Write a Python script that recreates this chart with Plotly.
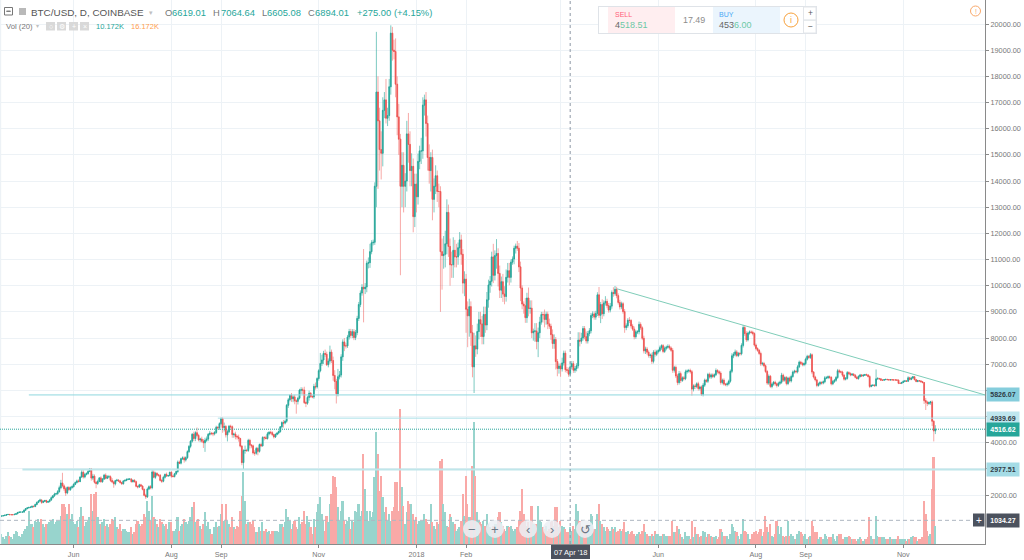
import pandas as pd
import plotly.graph_objects as go

# daily closes, one line per month (USD)
close = [
    1180, 1205, 1215, 1230, 1255, 1260, 1250, 1250, 1250, 1265, 1285, 1335, 1350, 1350, 1350,  # 2017-04 from the 16th
    1420, 1480, 1510, 1530, 1535, 1570, 1560, 1640, 1720, 1770, 1810, 1720, 1760, 1790, 1730, 1750, 1810, 1900, 1970, 2040, 2050, 2130, 2280, 2460, 2350, 2240, 2080, 2290, 2210, 2290, 2320,
    2410, 2480, 2540, 2515, 2690, 2870, 2690, 2790, 2825, 2905, 2990, 2650, 2720, 2490, 2440, 2520, 2655, 2510, 2610, 2760, 2640, 2700, 2700, 2560, 2500, 2430, 2550, 2570, 2540, 2480,
    2430, 2540, 2560, 2600, 2610, 2610, 2510, 2560, 2510, 2335, 2310, 2390, 2345, 2220, 1990, 1930, 2230, 2320, 2280, 2880, 2680, 2830, 2760, 2760, 2560, 2530, 2680, 2790, 2730, 2745, 2870,
    2720, 2710, 2810, 2900, 3260, 3220, 3390, 3420, 3340, 3430, 3660, 3860, 4060, 4320, 4160, 4380, 4280, 4110, 4140, 4060, 4000, 4090, 4140, 4320, 4360, 4350, 4340, 4390, 4590, 4570, 4730,
    4920, 4580, 4620, 4300, 4420, 4630, 4610, 4310, 4330, 4240, 4220, 4160, 3870, 3240, 3700, 3710, 3700, 4090, 3910, 3880, 3610, 3600, 3780, 3670, 3930, 3880, 4200, 4190, 4160, 4340,
    4400, 4380, 4310, 4220, 4320, 4370, 4430, 4610, 4770, 4750, 4820, 5430, 5640, 5810, 5680, 5750, 5600, 5580, 5700, 6010, 6020, 6010, 5530, 5510, 5730, 5890, 5770, 5750, 6150, 6130, 6450,
    6750, 7030, 7160, 7410, 7380, 6980, 7120, 7460, 7140, 6570, 6340, 5870, 6520, 6590, 7280, 7850, 7700, 7700, 8040, 8250, 8100, 8240, 8020, 8210, 8750, 9280, 9720, 9940, 9880, 9950,
    10860, 10880, 11300, 11640, 11660, 13800, 17400, 16300, 15200, 15060, 16700, 17100, 16400, 16500, 17600, 19650, 19000, 18950, 17700, 16450, 15600, 13800, 14600, 13800, 14000, 15800, 15400, 14400, 14560, 12640, 13880,
    13400, 14750, 15150, 15150, 16900, 17100, 16200, 14900, 14400, 14900, 13300, 13800, 14200, 13600, 13600, 11300, 11150, 11200, 11600, 12800, 11500, 10800, 10800, 11350, 11100, 11100, 11450, 11750, 11200, 10100, 10250,
    9100, 8850, 9200, 8200, 6900, 7700, 7580, 8250, 8700, 8540, 8060, 8900, 8500, 9460, 10030, 10170, 11100, 10400, 11150, 11230, 10470, 9830, 10150, 9680, 9590, 10320, 10570, 10320,
    10900, 11020, 11430, 11510, 11430, 10720, 9910, 9300, 9230, 8780, 9530, 9130, 9140, 8200, 8260, 8270, 7870, 8200, 8610, 8900, 8890, 8710, 8910, 8540, 8450, 8130, 7790, 7940, 7100, 6840, 6930,
    6820, 7050, 7420, 6790, 6770, 6620, 6900, 7020, 6770, 6830, 6940, 7920, 7880, 8000, 8360, 8050, 7890, 8170, 8280, 8860, 8920, 8800, 8940, 9650, 8870, 9280, 8930, 9340, 9400, 9240,
    9070, 9220, 9740, 9700, 9860, 9620, 9360, 9190, 9310, 9010, 8400, 8470, 8680, 8670, 8460, 8340, 8050, 8240, 8240, 8520, 8390, 7990, 7510, 7580, 7460, 7330, 7350, 7110, 7460, 7380, 7480,
    7520, 7630, 7710, 7490, 7610, 7650, 7680, 7620, 7530, 6770, 6880, 6550, 6300, 6640, 6380, 6480, 6450, 6710, 6740, 6760, 6710, 6050, 6170, 6150, 6250, 6070, 6130, 5850, 6200, 6390,
    6350, 6610, 6510, 6590, 6530, 6600, 6760, 6710, 6660, 6300, 6390, 6240, 6220, 6250, 6350, 6730, 7320, 7380, 7470, 7330, 7410, 7400, 7720, 8400, 8170, 7930, 8190, 8230, 8220, 8170, 7730,
    7600, 7530, 7410, 7010, 7030, 6940, 6720, 6280, 6540, 6150, 6240, 6310, 6250, 6190, 6270, 6310, 6580, 6390, 6490, 6260, 6470, 6360, 6530, 6700, 6730, 6710, 6900, 7080, 7030, 6980, 7020,
    7190, 7300, 7260, 7360, 6700, 6510, 6400, 6190, 6250, 6300, 6280, 6330, 6480, 6480, 6520, 6500, 6250, 6340, 6390, 6490, 6750, 6710, 6700, 6580, 6430, 6460, 6680, 6640, 6590, 6620,
    6580, 6500, 6450, 6530, 6590, 6550, 6580, 6600, 6590, 6530, 6150, 6190, 6200, 6180, 6440, 6450, 6440, 6390, 6390, 6410, 6420, 6410, 6400, 6410, 6400, 6400, 6400, 6390, 6270, 6270, 6300,
    6350, 6360, 6350, 6480, 6420, 6470, 6520, 6410, 6340, 6370, 6360, 6330, 6300, 5610, 5550, 5500, 5530, 5560, 4820, 4450, 4520,  # 2018-11 to the 21st
]

# how far the wick rises above the body
wick_up = [
    15, 10, 10, 15, 10, 10, 10, 10, 10, 15, 15, 20, 15, 10, 15,
    30, 20, 20, 10, 30, 20, 30, 30, 30, 40, 50, 30, 30, 30, 30, 20, 40, 50, 30, 50, 30, 60, 80, 120, 390, 60, 80, 40, 50, 40, 50,
    40, 40, 50, 60, 30, 100, 90, 60, 40, 50, 40, 40, 90, 70, 40, 70, 30, 60, 40, 50, 70, 60, 70, 50, 90, 50, 30, 50, 40, 40,
    30, 30, 40, 30, 20, 30, 40, 40, 50, 40, 30, 40, 40, 30, 30, 60, 60, 50, 60, 80, 70, 60, 40, 50, 40, 60, 60, 30, 70, 20, 20,
    40, 50, 40, 30, 60, 60, 40, 60, 60, 50, 50, 50, 40, 50, 100, 60, 200, 60, 50, 90, 80, 100, 100, 50, 90, 50, 60, 60, 60, 40, 50,
    50, 50, 150, 60, 80, 50, 60, 50, 50, 90, 60, 90, 30, 40, 50, 180, 60, 60, 60, 40, 50, 100, 60, 60, 40, 60, 50, 50, 80, 70,
    40, 60, 60, 30, 30, 30, 40, 20, 50, 100, 60, 50, 70, 30, 90, 60, 80, 60, 60, 50, 100, 90, 130, 50, 60, 100, 50, 40, 100, 150, 50,
    60, 400, 200, 100, 150, 100, 100, 250, 100, 150, 200, 100, 300, 150, 100, 100, 150, 100, 80, 100, 100, 100, 100, 100, 100, 100, 100, 120, 1460, 150,
    100, 200, 300, 100, 100, 150, 2300, 600, 500, 700, 500, 300, 800, 300, 300, 300, 240, 400, 500, 300, 500, 200, 500, 500, 300, 500, 800, 500, 500, 300, 400,
    400, 300, 200, 500, 300, 200, 300, 300, 500, 200, 300, 300, 400, 200, 300, 200, 500, 700, 500, 500, 300, 300, 500, 500, 400, 500, 200, 300, 200, 200, 300,
    200, 300, 300, 200, 300, 500, 400, 300, 300, 300, 300, 300, 300, 300, 200, 200, 200, 500, 200, 550, 200, 300, 200, 300, 300, 300, 300, 300,
    100, 100, 100, 100, 200, 200, 200, 100, 100, 300, 200, 400, 300, 300, 100, 300, 300, 200, 200, 100, 100, 200, 100, 100, 200, 100, 200, 200, 100, 100, 100,
    100, 200, 100, 100, 100, 100, 200, 100, 100, 100, 100, 300, 300, 200, 100, 100, 200, 100, 100, 100, 100, 100, 100, 100, 300, 100, 200, 100, 200, 100,
    100, 120, 80, 200, 130, 100, 90, 100, 80, 70, 100, 90, 80, 120, 60, 80, 100, 70, 60, 110, 80, 60, 100, 90, 80, 70, 60, 90, 80, 100, 70,
    60, 80, 50, 60, 70, 60, 80, 70, 60, 90, 60, 70, 80, 100, 80, 60, 70, 80, 60, 60, 70, 70, 60, 80, 60, 80, 50, 60, 80, 60,
    50, 60, 70, 60, 60, 50, 80, 50, 60, 70, 60, 70, 40, 60, 60, 70, 100, 80, 90, 70, 60, 60, 80, 100, 80, 90, 60, 60, 60, 60, 50,
    60, 50, 50, 70, 60, 60, 50, 60, 70, 50, 60, 50, 60, 50, 60, 60, 90, 60, 50, 60, 50, 60, 70, 60, 60, 50, 70, 60, 50, 60, 50,
    60, 60, 50, 70, 50, 40, 50, 40, 50, 60, 50, 50, 70, 60, 50, 50, 40, 60, 50, 60, 70, 60, 50, 50, 40, 50, 60, 50, 50, 40,
    40, 40, 50, 50, 40, 30, 40, 30, 40, 30, 50, 30, 30, 30, 360, 60, 30, 30, 20, 20, 20, 20, 20, 20, 20, 20, 20, 20, 30, 20, 30,
    30, 40, 20, 60, 40, 50, 30, 20, 30, 30, 20, 30, 30, 20, 100, 50, 50, 40, 60, 40, 150,
]

# how far the wick drops below the body
wick_dn = [
    15, 10, 10, 10, 10, 15, 10, 10, 10, 10, 10, 15, 15, 10, 15,
    30, 20, 20, 20, 30, 20, 30, 20, 30, 30, 40, 60, 30, 30, 40, 30, 30, 30, 30, 40, 30, 40, 40, 60, 60, 80, 110, 50, 60, 50, 50,
    30, 30, 40, 30, 20, 40, 60, 50, 40, 50, 30, 100, 80, 50, 180, 50, 30, 40, 40, 30, 40, 30, 60, 60, 40, 150, 60, 30, 40, 40,
    40, 30, 30, 30, 30, 30, 30, 30, 30, 40, 60, 40, 30, 40, 30, 80, 40, 40, 60, 60, 40, 60, 40, 60, 40, 70, 40, 50, 40, 40, 30,
    60, 40, 40, 40, 50, 40, 50, 50, 100, 60, 50, 50, 70, 60, 100, 100, 60, 60, 90, 60, 200, 350, 60, 80, 50, 60, 90, 60, 50, 70, 80,
    60, 200, 150, 100, 250, 50, 60, 120, 120, 110, 100, 120, 50, 100, 260, 120, 50, 50, 130, 90, 60, 100, 60, 150, 50, 50, 30, 100, 30, 40,
    60, 60, 60, 60, 40, 40, 50, 50, 60, 170, 50, 60, 100, 60, 120, 130, 130, 470, 120, 50, 150, 160, 50, 150, 60, 120, 60, 50, 70, 100, 60,
    80, 60, 100, 150, 100, 50, 100, 100, 100, 200, 300, 370, 100, 100, 100, 150, 200, 100, 80, 100, 100, 100, 100, 100, 100, 100, 100, 100, 1280, 200,
    200, 200, 200, 100, 100, 100, 800, 2600, 800, 1000, 500, 300, 200, 300, 200, 300, 400, 300, 500, 700, 600, 3400, 800, 1000, 800, 400, 700, 600, 600, 600, 400,
    600, 300, 300, 500, 300, 400, 500, 500, 500, 800, 800, 500, 300, 400, 600, 2300, 1300, 500, 500, 400, 400, 800, 500, 500, 400, 400, 300, 300, 400, 400, 500,
    900, 1200, 800, 500, 400, 1000, 300, 200, 300, 500, 300, 300, 300, 200, 300, 300, 200, 300, 200, 500, 500, 300, 300, 300, 300, 200, 200, 300,
    200, 100, 200, 200, 100, 200, 500, 200, 300, 200, 200, 300, 200, 200, 300, 400, 300, 600, 200, 100, 300, 300, 200, 200, 100, 200, 200, 200, 300, 300, 200,
    300, 100, 100, 100, 100, 100, 100, 100, 100, 100, 100, 100, 200, 100, 100, 100, 100, 100, 100, 100, 100, 100, 100, 100, 100, 300, 200, 100, 100, 100,
    100, 90, 100, 120, 80, 100, 80, 100, 90, 80, 200, 100, 80, 100, 90, 70, 100, 80, 90, 100, 80, 70, 100, 120, 90, 80, 100, 100, 80, 90, 70,
    70, 60, 80, 70, 60, 80, 60, 70, 60, 100, 90, 80, 100, 80, 100, 60, 70, 60, 70, 60, 70, 250, 90, 100, 70, 80, 70, 60, 80, 70,
    60, 70, 60, 70, 60, 60, 50, 70, 60, 80, 70, 60, 60, 70, 60, 60, 70, 90, 80, 60, 60, 70, 60, 80, 90, 80, 60, 60, 60, 70, 60,
    70, 60, 60, 80, 60, 60, 60, 70, 70, 60, 70, 60, 70, 80, 60, 60, 60, 70, 60, 70, 60, 60, 60, 50, 60, 60, 60, 50, 60, 60, 60,
    60, 50, 60, 60, 80, 60, 60, 70, 50, 60, 60, 50, 60, 50, 50, 60, 60, 50, 60, 60, 50, 60, 50, 70, 60, 50, 50, 60, 50, 40,
    40, 40, 30, 40, 40, 30, 30, 30, 30, 40, 60, 30, 30, 40, 30, 30, 30, 30, 30, 20, 20, 20, 20, 20, 20, 20, 20, 20, 30, 20, 30,
    20, 30, 20, 30, 40, 30, 30, 30, 30, 30, 20, 30, 30, 130, 300, 100, 60, 80, 180, 400, 120,
]

# volume in thousands of BTC
volume = [
    5, 6, 4, 3, 5, 7, 5, 4, 3, 6, 8, 7, 5, 4, 6,
    8, 9, 11, 20, 12, 12, 10, 14, 13, 15, 13, 15, 12, 10, 12, 12, 13, 14, 15, 12, 13, 14, 14, 17, 24, 24, 22, 18, 24, 15, 18,
    13, 12, 14, 10, 16, 22, 17, 11, 13, 14, 16, 30, 20, 30, 31, 16, 12, 12, 13, 15, 11, 12, 10, 12, 15, 14, 16, 10, 9, 12,
    8, 9, 9, 8, 7, 7, 10, 6, 7, 12, 14, 12, 11, 12, 18, 16, 26, 20, 14, 29, 16, 15, 12, 10, 15, 13, 12, 11, 12, 9, 13,
    13, 8, 8, 9, 16, 8, 11, 12, 15, 13, 12, 14, 16, 22, 25, 13, 14, 15, 11, 9, 12, 19, 11, 13, 9, 6, 6, 10, 13, 10, 11,
    18, 24, 14, 24, 14, 12, 10, 16, 10, 9, 11, 10, 20, 29, 43, 26, 12, 13, 13, 12, 14, 10, 7, 7, 10, 8, 13, 8, 9, 7,
    8, 6, 8, 8, 8, 8, 7, 12, 12, 10, 13, 21, 16, 14, 9, 12, 14, 10, 9, 16, 12, 13, 20, 12, 17, 13, 10, 6, 15, 10, 19,
    24, 28, 18, 14, 8, 17, 13, 24, 30, 41, 40, 34, 22, 14, 20, 26, 14, 12, 14, 16, 9, 14, 13, 20, 19, 24, 17, 20, 54, 33,
    20, 14, 20, 16, 19, 40, 67, 54, 32, 41, 28, 19, 22, 14, 18, 14, 20, 22, 37, 37, 20, 81, 34, 23, 12, 19, 26, 24, 24, 18, 14,
    16, 12, 14, 14, 14, 18, 15, 13, 12, 24, 13, 11, 9, 13, 12, 50, 51, 24, 19, 11, 10, 18, 16, 13, 12, 8, 9, 10, 14, 30, 17,
    41, 24, 16, 16, 47, 73, 41, 19, 14, 13, 12, 14, 11, 18, 12, 10, 9, 11, 12, 12, 16, 19, 13, 11, 9, 8, 11, 10,
    11, 9, 8, 9, 10, 14, 20, 33, 18, 14, 11, 13, 10, 23, 12, 12, 12, 23, 14, 13, 10, 9, 11, 8, 9, 13, 14, 11, 22, 22, 10,
    14, 11, 10, 9, 7, 7, 10.172, 8, 11, 9, 24, 20, 14, 9, 9, 10, 9, 8, 9, 18, 17, 9, 9, 18, 24, 14, 12, 10, 8, 10,
    9, 8, 10, 9, 10, 7, 8, 9, 8, 9, 13, 7, 8, 6, 7, 8, 6, 5, 6, 7, 6, 8, 12, 7, 6, 5, 5, 6, 5, 8, 6,
    6, 5, 5, 6, 6, 5, 5, 5, 5, 14, 7, 7, 11, 9, 6, 4, 3, 7, 5, 5, 3, 14, 4, 10, 6, 6, 4, 5, 8, 7,
    4, 6, 6, 5, 4, 4, 5, 3, 4, 9, 7, 5, 5, 5, 3, 6, 12, 10, 8, 7, 5, 3, 6, 15, 8, 7, 6, 3, 3, 6, 7,
    8, 6, 7, 9, 5, 7, 17, 10, 7, 12, 5, 4, 6, 14, 11, 6, 10, 5, 4, 5, 14, 5, 6, 5, 3, 3, 6, 8, 7, 6, 5,
    6, 3, 4, 5, 14, 11, 7, 7, 3, 4, 4, 3, 6, 5, 3, 4, 4, 6, 3, 2, 5, 6, 6, 3, 3, 4, 4, 5, 4, 3,
    3, 3, 2, 3, 4, 3, 2, 3, 3, 4, 16, 5, 3, 3, 17, 5, 4, 4, 4, 4, 3, 3, 3, 4, 3, 3, 3, 3, 5, 3, 3,
    3, 3, 2, 3, 3, 4, 5, 4, 4, 2, 3, 3, 4, 26, 18, 8, 5, 6, 33, 52, 11,
]

assert len(close) == len(wick_up) == len(wick_dn) == len(volume), (len(close), len(wick_up), len(wick_dn), len(volume))

price_ticks = list(range(2000, 21000, 1000))
date_ticks = ["2017-06-01", "2017-08-01", "2017-09-01", "2017-11-01", "2018-01-01", "2018-02-01",
              "2018-04-01", "2018-06-01", "2018-08-01", "2018-09-01", "2018-11-01"]
date_labels = ["Jun", "Aug", "Sep", "Nov", "2018", "Feb", "Apr", "Jun", "Aug", "Sep", "Nov"]

# drawn levels: price, first date, line width, colour
levels = [
    (5826.07, "2017-05-04", 1, "#8fd8df"),
    (4939.69, "2017-08-30", 1, "#a9e0e8"),
    (2977.51, "2017-04-30", 2, "#bfe6ea"),
]
level_tags = [(5826.07, "#85cddc"), (4939.69, "#bfe6ee"), (2977.51, "#a5dce6")]
last_price = 4516.62
cross_price = 1034.27
cross_date = "2018-04-07"
trend_dates = ["2018-05-06", "2018-12-22"]
trend_prices = [9885, 5826.07]

UP = "#26a69a"
DOWN = "#ef5350"
GRID = "#edf2f6"
FONT = "Liberation Sans"
PLOT_W = 985
PLOT_H = 544

dates = pd.date_range("2017-04-16", periods=len(close), freq="D")
opens = [close[0] - 10] + close[:-1]
body_top = [max(o, c) for o, c in zip(opens, close)]
body_bot = [min(o, c) for o, c in zip(opens, close)]
high = [t + w for t, w in zip(body_top, wick_up)]
low = [b - w for b, w in zip(body_bot, wick_dn)]
vol_colors = ["#98d4cd" if c >= o else "#f9a9a7" for o, c in zip(opens, close)]

fig = go.Figure()

# volume sits on the main axis so the overlaid price axis draws on top of it
fig.add_trace(go.Bar(x=dates, y=volume, marker=dict(color=vol_colors, line_width=0), yaxis="y"))

# pale wicks first, then solid bodies over them
fig.add_trace(go.Candlestick(
    x=dates, open=opens, high=high, low=low, close=close, yaxis="y2",
    increasing=dict(line=dict(color="rgba(38,166,154,0.6)", width=1), fillcolor="rgba(0,0,0,0)"),
    decreasing=dict(line=dict(color="rgba(239,83,80,0.5)", width=1), fillcolor="rgba(0,0,0,0)"),
))
fig.add_trace(go.Candlestick(
    x=dates, open=opens, high=body_top, low=body_bot, close=close, yaxis="y2",
    increasing=dict(line=dict(color=UP, width=0.6), fillcolor=UP),
    decreasing=dict(line=dict(color=DOWN, width=0.6), fillcolor=DOWN),
))


def px(x):
    return x / PLOT_W


def py(y):
    return 1 - y / PLOT_H


def box(x0, y0, x1, y1, fill, line=None, kind="rect"):
    fig.add_shape(type=kind, xref="paper", yref="paper", x0=px(x0), x1=px(x1), y0=py(y0), y1=py(y1),
                  fillcolor=fill, line=dict(color=line or "rgba(0,0,0,0)", width=1 if line else 0), layer="above")


def label(x, y, text, size, color, anchor="left"):
    fig.add_annotation(xref="paper", yref="paper", x=px(x), y=py(y), text=text, showarrow=False,
                       xanchor=anchor, yanchor="middle", borderpad=0,
                       font=dict(family=FONT, size=size, color=color))


# pale strip down the left edge of the pane
box(0, 0, 1.2, 544, GRID)

# price levels, trend line and crosshair
for price, start, width, color in levels:
    fig.add_shape(type="line", xref="x", yref="y2", x0=start, x1="2018-12-22", y0=price, y1=price,
                  line=dict(color=color, width=width), layer="above")
fig.add_shape(type="line", xref="x", yref="y2", x0=trend_dates[0], x1=trend_dates[1],
              y0=trend_prices[0], y1=trend_prices[1], line=dict(color="#7fcdb9", width=1), layer="above")
fig.add_shape(type="line", xref="paper", yref="y2", x0=0, x1=1, y0=last_price, y1=last_price,
              line=dict(color=UP, width=1, dash="1px,1px"), layer="above")
fig.add_shape(type="line", xref="paper", yref="y2", x0=0, x1=1, y0=cross_price, y1=cross_price,
              line=dict(color="#aeb6c1", width=1, dash="4px,3px"), layer="above")
fig.add_shape(type="line", xref="x", yref="paper", x0=cross_date, x1=cross_date, y0=0, y1=1,
              line=dict(color="#8d98a5", width=1, dash="3px,3px"), layer="above")

# tags on the price axis
for price, color in level_tags:
    fig.add_annotation(xref="paper", yref="y2", x=1, y=price, xanchor="left", xshift=0.5, yanchor="middle",
                       text="<b>%.2f</b>" % price, showarrow=False, width=32, height=13, bgcolor=color, borderpad=0,
                       font=dict(family=FONT, size=7, color="#2f3b45"))
fig.add_annotation(xref="paper", yref="y2", x=1, y=last_price, xanchor="left", xshift=0.5, yanchor="middle",
                   text="<b>%.2f</b>" % last_price, showarrow=False, width=32, height=13, bgcolor=UP, borderpad=0,
                   font=dict(family=FONT, size=7, color="white"))
fig.add_annotation(xref="paper", yref="y2", x=1, y=cross_price, xanchor="left", xshift=0.5, yanchor="middle",
                   text="<b>%.2f</b>" % cross_price, showarrow=False, width=32, height=13, bgcolor="#4c525e", borderpad=0,
                   font=dict(family=FONT, size=7, color="white"))
box(973, 513.5, 984.5, 526.5, "#4c525e")
label(979, 520, "+", 10, "white", "center")

# crosshair date tag
box(551, 545, 590, 559, "#4c525e")
label(570.5, 552, "07 Apr '18", 7.5, "white", "center")

# header, first line
box(4.5, 7.5, 12.5, 15, "white", "#777777")
box(6.5, 11.2, 10.5, 11.3, "#777777", "#777777")
box(19, 8, 26, 15, "#b9b9b9")
label(30, 12, "BTC/USD, D, COINBASE", 9.9, "#555555")
label(148, 12, "▾", 7, "#c0c0c0")
header_items = [(164, "O", "#777777"), (171, "6619.01", UP), (212, "H", "#777777"), (220, "7064.64", UP),
                (261, "L", "#777777"), (266, "6605.08", UP), (307, "C", "#777777"), (314, "6894.01", UP),
                (356, "+275.00", UP), (393, "(+4.15%)", UP)]
for hx, text, color in header_items:
    label(hx, 12, text, 9.4, color)

# header, second line
label(5, 26, "Vol (20)", 7.7, "#777777")
label(35, 26, "▾", 6, "#c0c0c0")
for hx, glyph in zip([46, 57, 69, 80], ["○", "⚙", "+", "×"]):
    box(hx, 22, hx + 9, 30.5, "#d9d9d9")
    label(hx + 4.5, 26, glyph, 7, "white", "center")
label(95, 26, "10.172K", 7.5, UP)
label(130, 26, "16.172K", 7.5, "#ff9e4f")

# sell / buy widget
box(598, 6, 817, 34, "#dfe3e8")
box(599, 7, 816, 33, "white")
box(608, 7, 675, 33, "#ffeef0")
box(713, 7, 780, 33, "#ebf5fd")
box(803.5, 7, 816, 33, "white", "#e3e6ea")
box(803.5, 20, 816, 20.2, "#e3e6ea", "#e3e6ea")
label(614, 14, "SELL", 7, "#ff5d7a")
label(614, 24.5, '<span style="color:#666666">4</span>518.51', 9, "#6cc9a6")
label(694, 20, "17.49", 8.9, "#8c8c8c", "center")
label(718, 14, "BUY", 7, "#4aa8f5")
label(718, 24.5, '<span style="color:#666666">453</span>6.00', 9, "#6cc9a6")
box(784, 13, 798, 27, "white", "#f7a13c", "circle")
label(791, 20, "i", 9, "#f7a13c", "center")
label(810, 13.5, "+", 8.5, "#555555", "center")
label(810, 26.5, "−", 8.5, "#555555", "center")
box(970.5, 6, 980.5, 16, "white", "#f9a86a", "circle")
label(975.5, 11, "!", 7, "#f9a86a", "center")

# navigation buttons over the volume pane
for bx, glyph in zip([472, 495, 528, 552, 585], ["−", "+", "‹", "›", "↺"]):
    box(bx - 9, 520, bx + 9, 538, "rgba(236,240,244,0.85)", kind="circle")
    label(bx, 529, glyph, 13, "#6b7785", "center")

fig.update_layout(
    width=1024, height=560, margin=dict(l=0, r=39, t=0, b=16), autosize=False,
    paper_bgcolor="white", plot_bgcolor="white", showlegend=False, bargap=0,
    xaxis=dict(type="date", range=["2017-04-16", "2018-12-22"], rangeslider=dict(visible=False),
               tickmode="array", tickvals=date_ticks, ticktext=date_labels,
               showgrid=True, gridcolor=GRID, gridwidth=1, zeroline=False,
               showline=True, linecolor="#8a8a8a", linewidth=1, ticks="outside", ticklen=3, tickcolor="#8a8a8a",
               tickfont=dict(family=FONT, size=7.2, color="#787878")),
    yaxis=dict(range=[0, 326.4], visible=False, fixedrange=True),
    yaxis2=dict(overlaying="y", side="right", range=[130, 20917],
                tickmode="array", tickvals=price_ticks, ticktext=["%.2f" % t for t in price_ticks],
                showgrid=True, gridcolor=GRID, gridwidth=1, zeroline=False,
                showline=True, linecolor="#8a8a8a", linewidth=1, ticks="outside", ticklen=3, tickcolor="#8a8a8a",
                tickfont=dict(family=FONT, size=7.3, color="#787878")),
)

# the page's default body margin would push the chart off the window edge
fig.write_html("out.html", config={"displayModeBar": False}, post_script="document.body.style.margin='0';")
